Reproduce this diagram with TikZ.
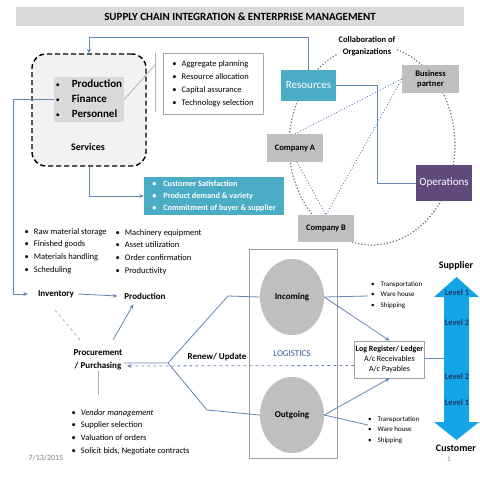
\documentclass[tikz,border=0pt]{standalone}
\usepackage{fontspec}
\setmainfont{Carlito}
\usetikzlibrary{arrows.meta,shapes.geometric}
\definecolor{titlegray}{RGB}{217,217,217}
\definecolor{boxgray}{RGB}{191,191,191}
\definecolor{svcfill}{RGB}{242,242,242}
\definecolor{innergray}{RGB}{217,217,217}
\definecolor{tealc}{RGB}{75,172,198}
\definecolor{purplec}{RGB}{96,74,123}
\definecolor{linec}{RGB}{100,135,180}
\definecolor{dotblue}{RGB}{80,120,180}
\definecolor{arrowblue}{RGB}{20,165,230}
\definecolor{navy}{RGB}{31,56,100}
\definecolor{logc}{RGB}{50,90,150}
\definecolor{dategray}{RGB}{128,128,128}
\definecolor{circgray}{RGB}{110,110,110}
\newcommand{\fs}[2]{\fontsize{#1}{#2}\selectfont}
\newcommand{\smb}{{\mdseries\fontsize{8}{8}\selectfont\textbullet}}
\tikzset{
  conn/.style={draw=linec, line width=0.8pt},
  arr/.style={conn, -{Stealth[length=4.5pt,width=4pt]}},
  graybox/.style={fill=boxgray, minimum width=56pt, minimum height=28pt, font=\fs{8.5}{10}\bfseries, align=center, inner sep=1pt},
  colorbox/.style={minimum width=55pt, minimum height=31pt, font=\fs{11}{13}, text=white, inner sep=1pt},
  lbl/.style={font=\fs{9}{11}\bfseries, inner sep=1pt},
  blist/.style={anchor=north west, inner sep=0pt, align=left},
  dotline/.style={draw=dotblue, dotted, line width=0.9pt},
  grayline/.style={draw=gray!60, line width=0.8pt},
  levellbl/.style={font=\fs{8.5}{10}\bfseries, text=navy},
}
\begin{document}
\begin{tikzpicture}[x=1pt,y=-1pt]
\useasboundingbox (0,0) rectangle (480,480);
\fill[white] (0,0) rectangle (480,480);
% title
\node[fill=titlegray, minimum width=448pt, minimum height=19pt, font=\fs{11}{13}\bfseries] (title) at (240,16.5) {SUPPLY CHAIN INTEGRATION \& ENTERPRISE MANAGEMENT};
% collaboration ellipse
\draw[dotted, line width=1.2pt, draw=circgray] (372,145) ellipse [x radius=83, y radius=100];
\node[fill=white, font=\fs{8.5}{12}\bfseries, align=center, inner sep=1pt] (collab) at (367,46) {Collaboration of\\Organizations};
% services
\node[draw=black, line width=1.4pt, dash pattern=on 5pt off 3pt, rounded corners=14pt, fill=svcfill, minimum width=114pt, minimum height=112pt] (services) at (89,110) {};
\node[fill=innergray, minimum width=70pt, minimum height=44pt, font=\fs{11}{15}\bfseries, inner sep=0pt] (innerbox) at (89,99.5) {\begin{tabular}{@{}l@{\hspace{12pt}}l@{}}\smb&Production\\\smb&Finance\\\smb&Personnel\end{tabular}};
\node[font=\fs{10}{12}\bfseries] (svclabel) at (88,147) {Services};
\coordinate (callA) at (155,65);
\coordinate (callT) at (155,53);
\coordinate (callB) at (155,112);
\draw[grayline] (innerbox.east) -- (callA);
\draw[grayline] (callT) -- (callB);
% planning box
\node[draw=gray!70, fill=white, minimum width=100pt, minimum height=61pt, font=\fs{8.5}{12.7}, inner sep=0pt] (plan) at (213,83.5) {\begin{tabular}{@{}l@{\hspace{5pt}}l@{}}\textbullet&Aggregate planning\\\textbullet&Resource allocation\\\textbullet&Capital assurance\\\textbullet&Technology selection\end{tabular}};
% organisation boxes
\node[colorbox, fill=tealc] (resources) at (308.5,85.5) {Resources};
\node[graybox, minimum width=57pt] (bp) at (430.5,79) {Business\\partner};
\node[graybox] (compA) at (295,148) {Company A};
\node[colorbox, fill=purplec, minimum width=56pt, minimum height=36pt] (operations) at (444,183) {Operations};
\node[graybox, minimum height=27pt] (compB) at (326,228.5) {Company B};
% dotted links
\draw[dotline] (compA.north) -- (bp.west);
\draw[dotline] (bp.west) -- (compB.north);
\draw[dotline] ([xshift=2pt]compA.south) -- (compB.north);
% connectors top
\coordinate (topbend) at (89,37);
\draw[arr] (resources.north) |- (topbend) -- (services.north);
\coordinate (rk) at (377,183);
\draw[conn] (resources.east) -| (rk) -- (operations.west);
% customer box
\node[fill=tealc, minimum width=140pt, minimum height=38pt, font=\fs{8.2}{12.3}\bfseries, text=white, inner sep=0pt] (cust) at (214,196) {\begin{tabular}{@{}l@{\hspace{7pt}}l@{}}\textbullet&Customer Satisfaction\\\textbullet&Product demand \& variety\\\textbullet&Commitment of buyer \& supplier\end{tabular}};
\draw[arr] (services.south) |- (cust.west);
% lists
\node[blist, font=\fs{8.5}{12.7}] (list1) at (24.5,225) {\begin{tabular}{@{}l@{\hspace{5pt}}l@{}}\textbullet&Raw material storage\\\textbullet&Finished goods\\\textbullet&Materials handling\\\textbullet&Scheduling\end{tabular}};
\node[blist, font=\fs{8.5}{12.7}] (list2) at (115.5,226) {\begin{tabular}{@{}l@{\hspace{5pt}}l@{}}\textbullet&Machinery equipment\\\textbullet&Asset utilization\\\textbullet&Order confirmation\\\textbullet&Productivity\end{tabular}};
% inventory / production
\node[lbl] (inv) at (56,294) {Inventory};
\node[lbl] (prod) at (145,296) {Production};
\coordinate (leftbend) at (13,294);
\draw[arr] (innerbox.west) -| (leftbend) -- ([xshift=-9pt]inv.west);
\draw[arr] ([xshift=3pt]inv.east) -- ([xshift=-6pt]prod.west);
% procurement
\node[lbl, align=center, font=\fs{9}{13}\bfseries] (proc) at (98,360) {Procurement\\/ Purchasing};
\coordinate (procTop) at (113,340);
\draw[arr] (procTop) -- ([xshift=10pt,yshift=-4pt]prod.south west);
\coordinate (invDashA) at (55,310);
\coordinate (invDashB) at (80,340);
\draw[grayline, dashed] (invDashA) -- (invDashB);
\coordinate (procDown) at (98,395);
\draw[grayline] (proc.south) -- (procDown);
\node[blist, font=\fs{8.5}{12.7}] (list3) at (71.5,406) {\begin{tabular}{@{}l@{\hspace{5pt}}l@{}}\textbullet&\textit{Vendor management}\\\textbullet&Supplier selection\\\textbullet&Valuation of orders\\\textbullet&Solicit bids, Negotiate contracts\end{tabular}};
\node[font=\fs{8}{10}, text=dategray] (date) at (46,458) {7/13/2015};
% logistics
\node[draw=gray!75, line width=0.8pt, minimum width=88pt, minimum height=209pt] (logbox) at (293,353.5) {};
\node[ellipse, fill=boxgray, minimum width=64pt, minimum height=76pt, font=\fs{9}{11}\bfseries] (incoming) at (292,297) {Incoming};
\node[ellipse, fill=boxgray, minimum width=64pt, minimum height=76pt, font=\fs{9}{11}\bfseries] (outgoing) at (292,415) {Outgoing};
\node[font=\fs{9}{11}, text=logc] (logistics) at (292,354) {LOGISTICS};
\node[draw=gray!75, line width=0.8pt, fill=white, minimum width=69pt, minimum height=37pt, font=\fs{8}{10}, align=center, inner sep=1pt] (logreg) at (389.5,359.5) {\textbf{Log Register/ Ledger}\\A/c Receivables\\A/c Payables};
\draw[arr] (incoming.east) -- (logreg.north);
\draw[arr] (outgoing.east) -- (logreg.south);
\coordinate (inR) at (368,296);
\coordinate (outR) at (368,425);
\draw[conn] (incoming.east) -- (inR);
\draw[conn] (outgoing.east) -- (outR);
\node[blist, font=\fs{7}{10.5}] (list4) at (371,278.6) {\begin{tabular}{@{}l@{\hspace{6pt}}l@{}}\textbullet&Transportation\\\textbullet&Ware house\\\textbullet&Shipping\end{tabular}};
\node[blist, font=\fs{7}{10.5}] (list5) at (368,413.6) {\begin{tabular}{@{}l@{\hspace{6pt}}l@{}}\textbullet&Transportation\\\textbullet&Ware house\\\textbullet&Shipping\end{tabular}};
% renew/update
\coordinate (inL) at (228,296);
\coordinate (junc) at (168,363);
\coordinate (procR) at (124,363);
\coordinate (outL) at (207,410);
\draw[conn] (incoming.west) -- (inL) -- (junc) -- (procR);
\draw[conn] (outgoing.west) -- (outL) -- (junc);
\coordinate (dashEnd) at (127,366);
\draw[arr, dashed] ([yshift=-6pt]logreg.west) -- (dashEnd);
\node[lbl] (renew) at (217,357) {Renew/ Update};
% supplier/customer arrow
\fill[arrowblue] (456.5,277) -- (479,297) -- (469,297) -- (469,422) -- (479,422) -- (456.5,440) -- (434,422) -- (444,422) -- (444,297) -- (434,297) -- cycle;
\coordinate (arrowL) at (444,358);
\draw[conn] (logreg.east |- arrowL) -- (arrowL);
\node[font=\fs{10}{12}\bfseries] (supplier) at (456,266) {Supplier};
\node[font=\fs{10}{12}\bfseries] (customer) at (456,448) {Customer};
\node[font=\fs{7}{8}, text=dategray] (pagenum) at (449,459) {1};
\node[levellbl] (lv1a) at (457,293) {Level 1};
\node[levellbl] (lv2a) at (457,323) {Level 2};
\node[font=\fs{6}{8}, text=navy] (dd) at (456,356) {..};
\node[font=\fs{6}{8}, text=navy] (d1) at (456,367) {.};
\node[levellbl] (lv2b) at (457,377) {Level 2};
\node[levellbl] (lv1b) at (457,403) {Level 1};
\end{tikzpicture}
\end{document}
